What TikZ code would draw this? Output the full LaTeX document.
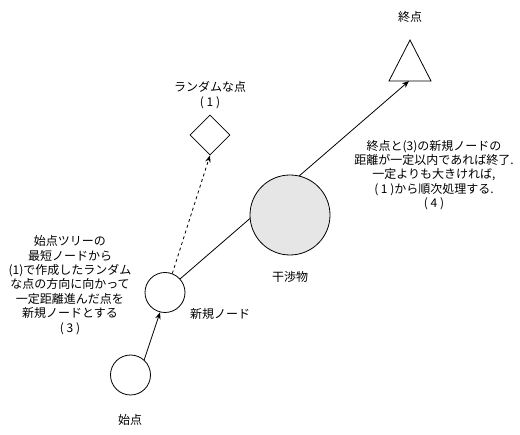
\documentclass[tikz,border=0pt]{standalone}
\usepackage{fontspec}
\setmainfont{Noto Sans CJK JP}
\usetikzlibrary{shapes.geometric,arrows.meta}
\definecolor{obst}{HTML}{E6E6E6}
\tikzset{
  lbl/.style={align=center,inner sep=0pt,font=\fontsize{12}{14.4}\selectfont},
  circ/.style={draw,circle,line width=0.8pt,minimum size=40pt,inner sep=0pt},
  conn/.style={line width=0.8pt,-{Stealth[length=7pt,width=5.5pt]}},
}
\begin{document}
\begin{tikzpicture}[x=1pt,y=-1pt]
\useasboundingbox (0,0) rectangle (520,435);
% nodes
\node[circ] (start) at (130.5,375) {};
\node[circ] (newn) at (165,292.5) {};
\node[draw,diamond,line width=0.8pt,minimum width=40pt,minimum height=40pt,inner sep=0pt] (rand) at (210,135) {};
\draw[line width=0.8pt] (410,40) -- (431,81) -- (389,81) -- cycle;
\coordinate (goal) at (409,81);
% connectors
\draw[conn] (start.48) -- (newn.-104);
\draw[conn,dash pattern=on 3pt off 3pt] (newn.69) -- (rand.south);
\draw[conn] (newn.42) -- (goal);
% obstacle on top
\node[circ,fill=obst,minimum size=80pt] (obs) at (290,215) {};
% labels
\node[lbl] (lgoal) at (410,17) {終点};
\node[lbl] (lrand) at (210,95) {ランダムな点\\( 1 )};
\node[lbl] (lleft) at (70,285) {始点ツリーの\\最短ノードから\\(1)で作成したランダム\\な点の方向に向かって\\一定距離進んだ点を\\新規ノードとする\\( 3 )};
\node[lbl] (lright) at (434,175) {終点と(3)の新規ノードの\\距離が一定以内であれば終了.\\一定よりも大きければ,\\( 1 )から順次処理する.\\( 4 )};
\node[lbl] (lobs) at (290,277) {干渉物};
\node[lbl] (lnew) at (220,314) {新規ノード};
\node[lbl] (lstart) at (130,420) {始点};
\end{tikzpicture}
\end{document}
